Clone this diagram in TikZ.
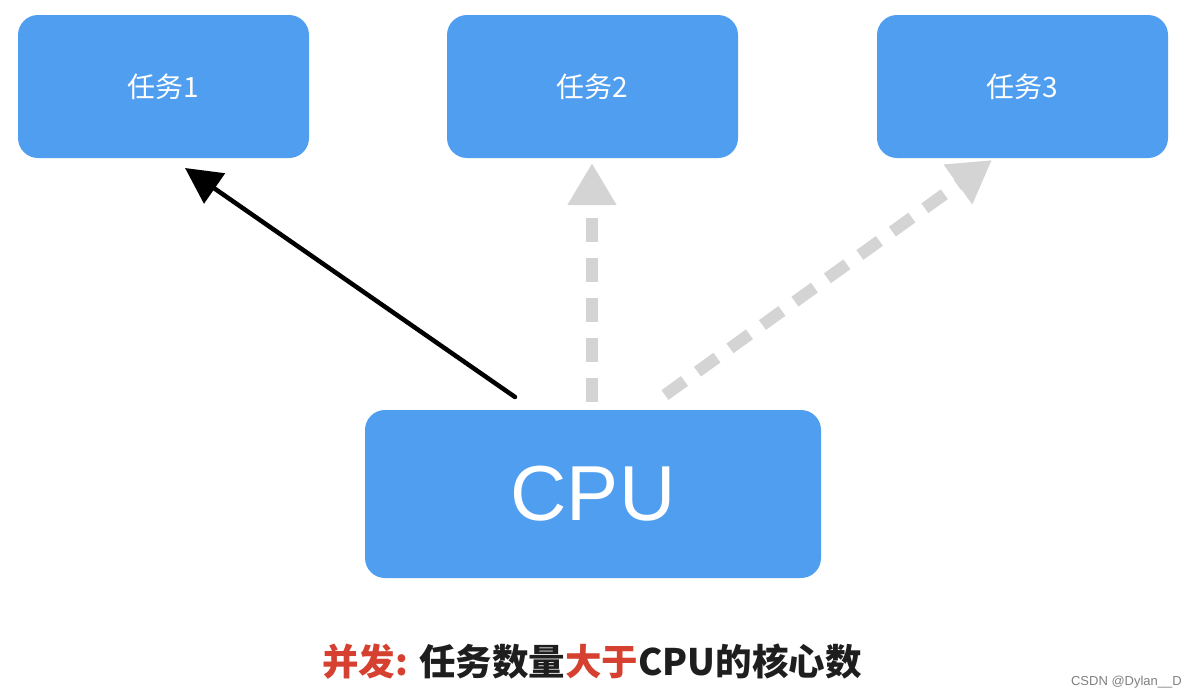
\documentclass[tikz,border=0pt]{standalone}
\usepackage{fontspec}
\setmainfont{Liberation Sans}
\newfontfamily\cjk{Noto Sans CJK SC}
\usetikzlibrary{arrows.meta}
\definecolor{boxblue}{RGB}{80,158,240}
\definecolor{lightgray}{RGB}{212,212,212}
\definecolor{redtxt}{RGB}{214,64,48}
\definecolor{darktxt}{RGB}{30,30,30}
\tikzset{
  taskbox/.style={fill=boxblue, rounded corners=20pt, minimum width=291pt, minimum height=143pt, inner sep=0pt, text=white, font=\cjk\fontsize{28pt}{30pt}\selectfont},
  cpubox/.style={fill=boxblue, rounded corners=20pt, minimum width=456pt, minimum height=168pt, inner sep=0pt, text=white, font=\fontsize{78pt}{90pt}\selectfont},
  activearrow/.style={line width=4.5pt, -{Triangle[length=36pt,width=36pt]}, line cap=round},
  idlearrow/.style={line width=12pt, lightgray, dash pattern=on 24pt off 16pt, -{Triangle[length=42pt,width=46pt]}}
}
\begin{document}
\begin{tikzpicture}[x=1pt,y=-1pt]
\useasboundingbox (0,0) rectangle (1195,699);
\node[taskbox] (t1) at (163.5,86.5) {任务1};
\node[taskbox] (t2) at (592.5,86.5) {任务2};
\node[taskbox] (t3) at (1022.5,86.5) {任务3};
\node[cpubox] (cpu) at (593,494) {CPU};
\coordinate (a1s) at (515,397);
\coordinate (a1e) at (185,168);
\coordinate (a2s) at (592,402);
\coordinate (a2e) at (592,163);
\coordinate (a3s) at (665,395);
\coordinate (a3e) at (992,160);
\draw[activearrow] (a1s) -- (a1e);
\draw[idlearrow] (a2s) -- (a2e);
\draw[idlearrow] (a3s) -- (a3e);
\node[font=\cjk\bfseries\fontsize{36.5pt}{40pt}\selectfont, text=darktxt, inner sep=0pt] (cap) at (592,662) {\textcolor{redtxt}{并发:} 任务数量\textcolor{redtxt}{大于}CPU的核心数};
\node[font=\fontsize{13pt}{15pt}\selectfont, text=gray, anchor=east, inner sep=0pt] (wm) at (1182,682) {CSDN @Dylan\_\_D};
\end{tikzpicture}
\end{document}
